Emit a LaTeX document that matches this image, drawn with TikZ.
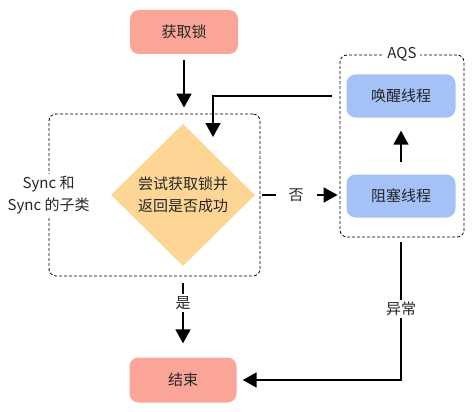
\documentclass[tikz,border=0pt]{standalone}
\usepackage{fontspec}
\setmainfont{Noto Sans CJK SC}
\usetikzlibrary{shapes.geometric,arrows.meta}

\definecolor{lockred}{HTML}{FAA597}
\definecolor{tryyellow}{HTML}{FDD696}
\definecolor{threadblue}{HTML}{A5C2F7}

\tikzset{
  lockbox/.style={fill=lockred, rounded corners=9pt, minimum width=108pt, minimum height=44pt},
  threadbox/.style={fill=threadblue, rounded corners=9pt, minimum width=109pt, minimum height=43pt},
  groupbox/.style={draw, line width=0.8pt, dash pattern=on 3pt off 2pt, rounded corners=7pt},
  flow/.style={line width=1.7pt, -{Triangle[width=15pt,length=14pt]}},
  tag/.style={fill=white, inner sep=2pt}
}

\begin{document}
\begin{tikzpicture}
[x=1pt, y=-1pt, font=\fontsize{15}{22}\selectfont, text=black!85]
  \useasboundingbox (0,0) rectangle (474,412);
  % dashed groups
  \node (sync) [groupbox, minimum width=211pt, minimum height=162pt] at (154.5,195) {};
  \node (aqs) [groupbox, minimum width=124pt, minimum height=182pt] at (402,146) {};
  \node [tag, align=center] at (sync.west) {Sync 和\\Sync 的子类};
  \node [tag, inner sep=3pt] at (aqs.north) {AQS};
  % boxes
  \node (acquire) [lockbox] at (184,32) {获取锁};
  \node (try) [diamond, fill=tryyellow, minimum width=144pt, minimum height=142pt,
               inner sep=0pt, align=center] at (183,195) {尝试获取锁并\\返回是否成功};
  \node (wake) [threadbox] at (401,96) {唤醒线程};
  \node (block) [threadbox] at (401,196) {阻塞线程};
  \node (end) [lockbox, minimum width=107pt, minimum height=45pt] at (183,380) {结束};
  \coordinate (wakein) at (213,137);
  % arrows
  \draw[flow, shorten <=6pt, shorten >=6pt] (acquire.south) -- (acquire.south |- sync.north);
  \draw[flow, shorten <=14pt] (wake.west) -| (wakein);
  \draw[flow, shorten <=12pt, shorten >=13pt] (block.north) -- (wake.south);
  \draw[flow, shorten <=2pt, shorten >=2pt] (sync.east) -- (sync.east -| aqs.west)
     node[pos=0.45, tag, inner xsep=13pt] {否};
  \draw[flow, shorten <=7pt, shorten >=14pt] (sync.south -| end) -- (end.north)
     node[pos=0.33, tag] {是};
  \draw[flow, shorten <=5pt, shorten >=6pt] (aqs.south -| block) |- (end.east)
     node[pos=0.25, tag] {异常};
\end{tikzpicture}
\end{document}
